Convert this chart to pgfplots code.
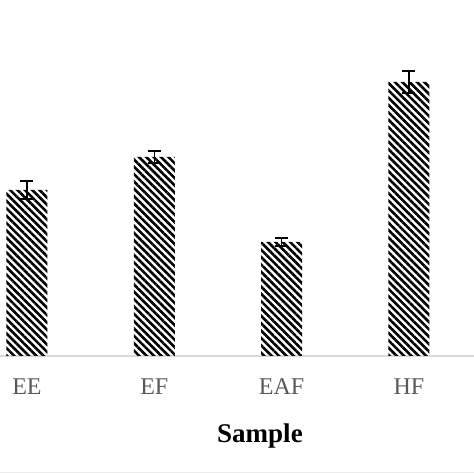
\documentclass[border=0pt]{standalone}
\usepackage{pgfplots}
\pgfplotsset{compat=1.18}
\usepackage{fontspec}
\setmainfont{Liberation Serif}
\usetikzlibrary{patterns.meta}

\definecolor{labelgray}{HTML}{595959}
\definecolor{axisgray}{HTML}{D9D9D9}

\begin{document}
\begin{tikzpicture}
  \path[use as bounding box] (0,0) rectangle (474pt,474pt);
  \draw[axisgray!50, line width=1pt] (0,1.5pt) -- (474pt,1.5pt);
  \begin{axis}[
      at={(0,118pt)}, anchor=south west,
      scale only axis, width=474pt, height=356pt,
      xmin=-0.212, xmax=3.511, ymin=0, ymax=356,
      hide y axis,
      axis x line*=bottom,
      x axis line style={axisgray, line width=1.5pt, -},
      xtick=data,
      xticklabels={EE, EF, EAF, HF},
      major tick length=0pt,
      xticklabel style={font=\fontsize{24}{24}\selectfont, text=labelgray, anchor=base, yshift=-39pt},
      xlabel={\textbf{Sample}},
      xlabel style={font=\fontsize{27}{27}\selectfont, at={(axis description cs:0.5485,-0.2416)}, anchor=base},
      ybar, bar width=41pt,
      clip=false,
    ]
    \addplot[draw=none,
             pattern={Lines[angle=-45,distance=5.2pt,line width=2.6pt]}, pattern color=black,
             error bars/.cd, y dir=both, y explicit,
             error bar style={black, line width=1.5pt},
             error mark options={rotate=90, mark size=6.5pt, line width=1.5pt, black}]
      table[x=x, y=y, y error=e] {
        x y   e
        0 166 9
        1 199 6
        2 114 4
        3 274 11
      };
  \end{axis}
\end{tikzpicture}
\end{document}
